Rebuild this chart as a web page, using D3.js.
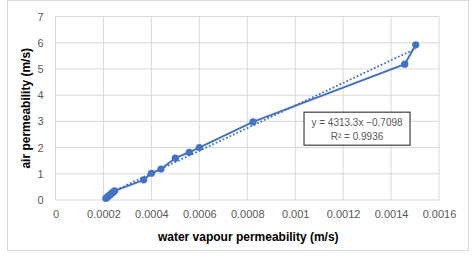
<!DOCTYPE html>
<html>
<head>
<meta charset="utf-8">
<style>
body { margin: 0; background: #fff; }
text { font-family: "Liberation Sans", Arial, sans-serif; }
.tick text { fill: #595959; font-size: 11px; }
</style>
</head>
<body>
<div id="ch1"></div>
<script src="https://d3js.org/d3.v7.min.js"></script>
<script>
// water vapour permeability (m/s) vs air permeability (m/s)
var wvp = [0.00021, 0.000215, 0.00022, 0.000225, 0.00023, 0.000235, 0.00024, 0.000247,
           0.000368, 0.0004, 0.00044, 0.0005, 0.000558, 0.0006, 0.000824, 0.001457, 0.001503];
var airPerm = [0.06, 0.1, 0.14, 0.18, 0.22, 0.26, 0.3, 0.35,
               0.77, 1.02, 1.18, 1.6, 1.82, 2.0, 2.98, 5.18, 5.92];
var xTicks = [0, 0.0002, 0.0004, 0.0006, 0.0008, 0.001, 0.0012, 0.0014, 0.0016];
var yTicks = [0, 1, 2, 3, 4, 5, 6, 7];
var slope = 4313.3, intercept = -0.7098;
var eqLabel = ["y = 4313.3x \u22120.7098", "R\u00b2 = 0.9936"];

var W = 474, H = 256;
var margin = {top: 16.5, right: 35, bottom: 56, left: 55.5},
    width = W - margin.left - margin.right,
    height = H - margin.top - margin.bottom;

var root = d3.select("#ch1").append("svg")
    .attr("width", W).attr("height", H);

root.append("rect")
    .attr("x", 7.5).attr("y", 0.5).attr("width", 461).attr("height", 250)
    .attr("fill", "#fff").attr("stroke", "#d9d9d9");

var svg = root.append("g")
    .attr("transform", "translate(" + margin.left + "," + margin.top + ")");

var x = d3.scaleLinear().domain([0, 0.0016]).range([0, width]);
var y = d3.scaleLinear().domain([0, 7]).range([height, 0]);

// grid
svg.append("g").selectAll("line").data(xTicks).enter().append("line")
    .attr("x1", d => x(d)).attr("x2", d => x(d))
    .attr("y1", 0).attr("y2", height)
    .attr("stroke", "#d9d9d9");
svg.append("g").selectAll("line").data(yTicks).enter().append("line")
    .attr("x1", 0).attr("x2", width)
    .attr("y1", d => y(d)).attr("y2", d => y(d))
    .attr("stroke", "#d9d9d9");

// axes (labels only)
svg.append("g")
    .attr("transform", "translate(0," + height + ")")
    .call(d3.axisBottom(x).tickValues(xTicks).tickSize(0).tickPadding(10)
      .tickFormat(d => d === 0 ? "0" : String(+d.toPrecision(2))))
    .call(g => g.select(".domain").remove());

svg.append("g")
    .call(d3.axisLeft(y).tickValues(yTicks).tickSize(0).tickPadding(12)
      .tickFormat(d3.format("d")))
    .call(g => g.select(".domain").remove());

// titles
svg.append("text")
    .attr("x", width / 2 + 1).attr("y", height + 41)
    .attr("text-anchor", "middle")
    .attr("font-weight", "bold").attr("font-size", "12px").attr("fill", "#000")
    .text("water vapour permeability (m/s)");

svg.append("text")
    .attr("transform", "translate(-26," + (height / 2) + ") rotate(-90)")
    .attr("text-anchor", "middle")
    .attr("font-weight", "bold").attr("font-size", "12px").attr("fill", "#000")
    .text("air permeability (m/s)");

var blue = "#4472C4";

// trendline
var xr = d3.extent(wvp);
svg.append("line")
    .attr("x1", x(xr[0])).attr("y1", y(slope * xr[0] + intercept))
    .attr("x2", x(xr[1])).attr("y2", y(slope * xr[1] + intercept))
    .attr("stroke", blue).attr("stroke-width", 1.8)
    .attr("stroke-dasharray", "1.8,2");

// series
var pts = wvp.map((d, i) => [d, airPerm[i]]);
svg.append("path")
    .datum(pts)
    .attr("fill", "none").attr("stroke", blue).attr("stroke-width", 2)
    .attr("d", d3.line().x(d => x(d[0])).y(d => y(d[1])));

svg.append("g").selectAll("circle").data(pts).enter().append("circle")
    .attr("cx", d => x(d[0])).attr("cy", d => y(d[1]))
    .attr("r", 3.6).attr("fill", blue);

// equation box
var bx = x(0.001258), by = y(3.35);
svg.append("rect")
    .attr("x", bx - 53).attr("y", by).attr("width", 106).attr("height", 33)
    .attr("fill", "#fff").attr("stroke", "#404040").attr("stroke-width", 1.2);
svg.append("g").selectAll("text").data(eqLabel).enter().append("text")
    .attr("x", bx).attr("y", (d, i) => by + 14 + i * 14)
    .attr("text-anchor", "middle").attr("font-size", "10px").attr("fill", "#595959")
    .text(d => d);
</script>
</body>
</html>
